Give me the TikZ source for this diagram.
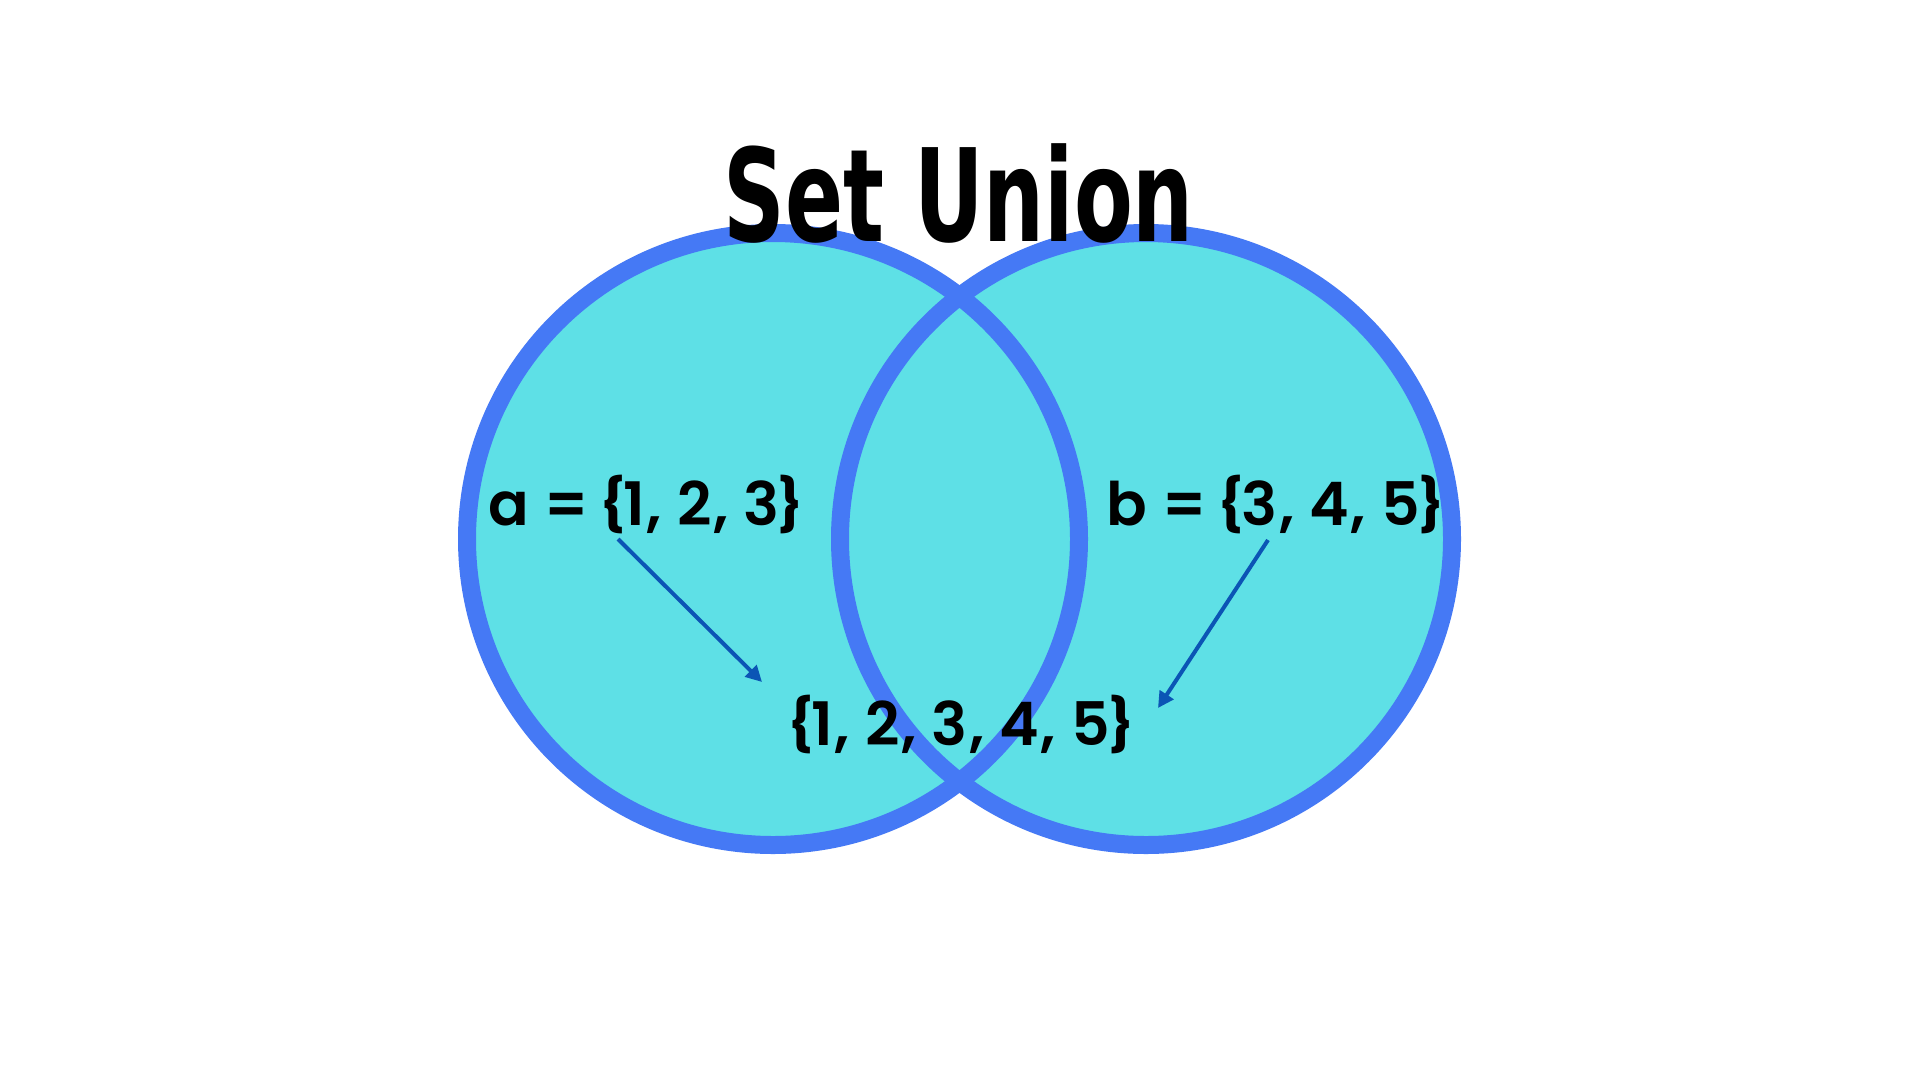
\documentclass[tikz,border=0pt]{standalone}
\usepackage{fontspec}
\usetikzlibrary{arrows.meta}
\newfontfamily\labfont{Poppins SemiBold}[LetterSpace=2]
\newfontfamily\bracefont{Fira Sans}
\newfontfamily\titlefont{DejaVu Sans Condensed Bold}
\newcommand{\lbr}{{\bracefont\bfseries\{}}
\newcommand{\rbr}{{\bracefont\bfseries\}}}
\definecolor{setfill}{HTML}{5EE0E6}
\definecolor{setline}{HTML}{4579F5}
\definecolor{arrowc}{HTML}{0B55B5}
\tikzset{
  setcircle/.style={draw=setline, line width=18pt},
  setlabel/.style={font=\labfont\fontsize{60}{64}\selectfont, text=black, inner sep=0pt, anchor=base},
  connector/.style={draw=arrowc, line width=4pt, -{Triangle[length=16pt,width=16pt]}},
}
\begin{document}
\begin{tikzpicture}[x=1pt,y=-1pt]
\useasboundingbox (0,0) rectangle (1920,1080);
\fill[white] (0,0) rectangle (1920,1080);
% fills
\fill[setfill] (773,539) circle[radius=306];
\fill[setfill] (1146,539) circle[radius=306];
% outlines
\draw[setcircle] (773,539) circle[radius=306];
\draw[setcircle] (1146,539) circle[radius=306];
% title
\node[font=\titlefont\fontsize{140}{150}\selectfont, inner sep=0pt, anchor=base] (title) at (959,241) {\scalebox{0.68}[0.92]{Set Union}};
% labels
\node[setlabel] (a) at (644,525) {a = \lbr1, 2, 3\rbr};
\node[setlabel] (b) at (1273,525) {b = \lbr3, 4, 5\rbr};
\node[setlabel] (u) at (961,745) {\lbr1, 2, 3, 4, 5\rbr};
\coordinate (aend) at (762,682);
\coordinate (bend) at (1158,708);
\coordinate (astart) at (618,539);
\coordinate (bstart) at (1268,540);
\draw[connector] (astart) -- (aend);
\draw[connector] (bstart) -- (bend);
\end{tikzpicture}
\end{document}
